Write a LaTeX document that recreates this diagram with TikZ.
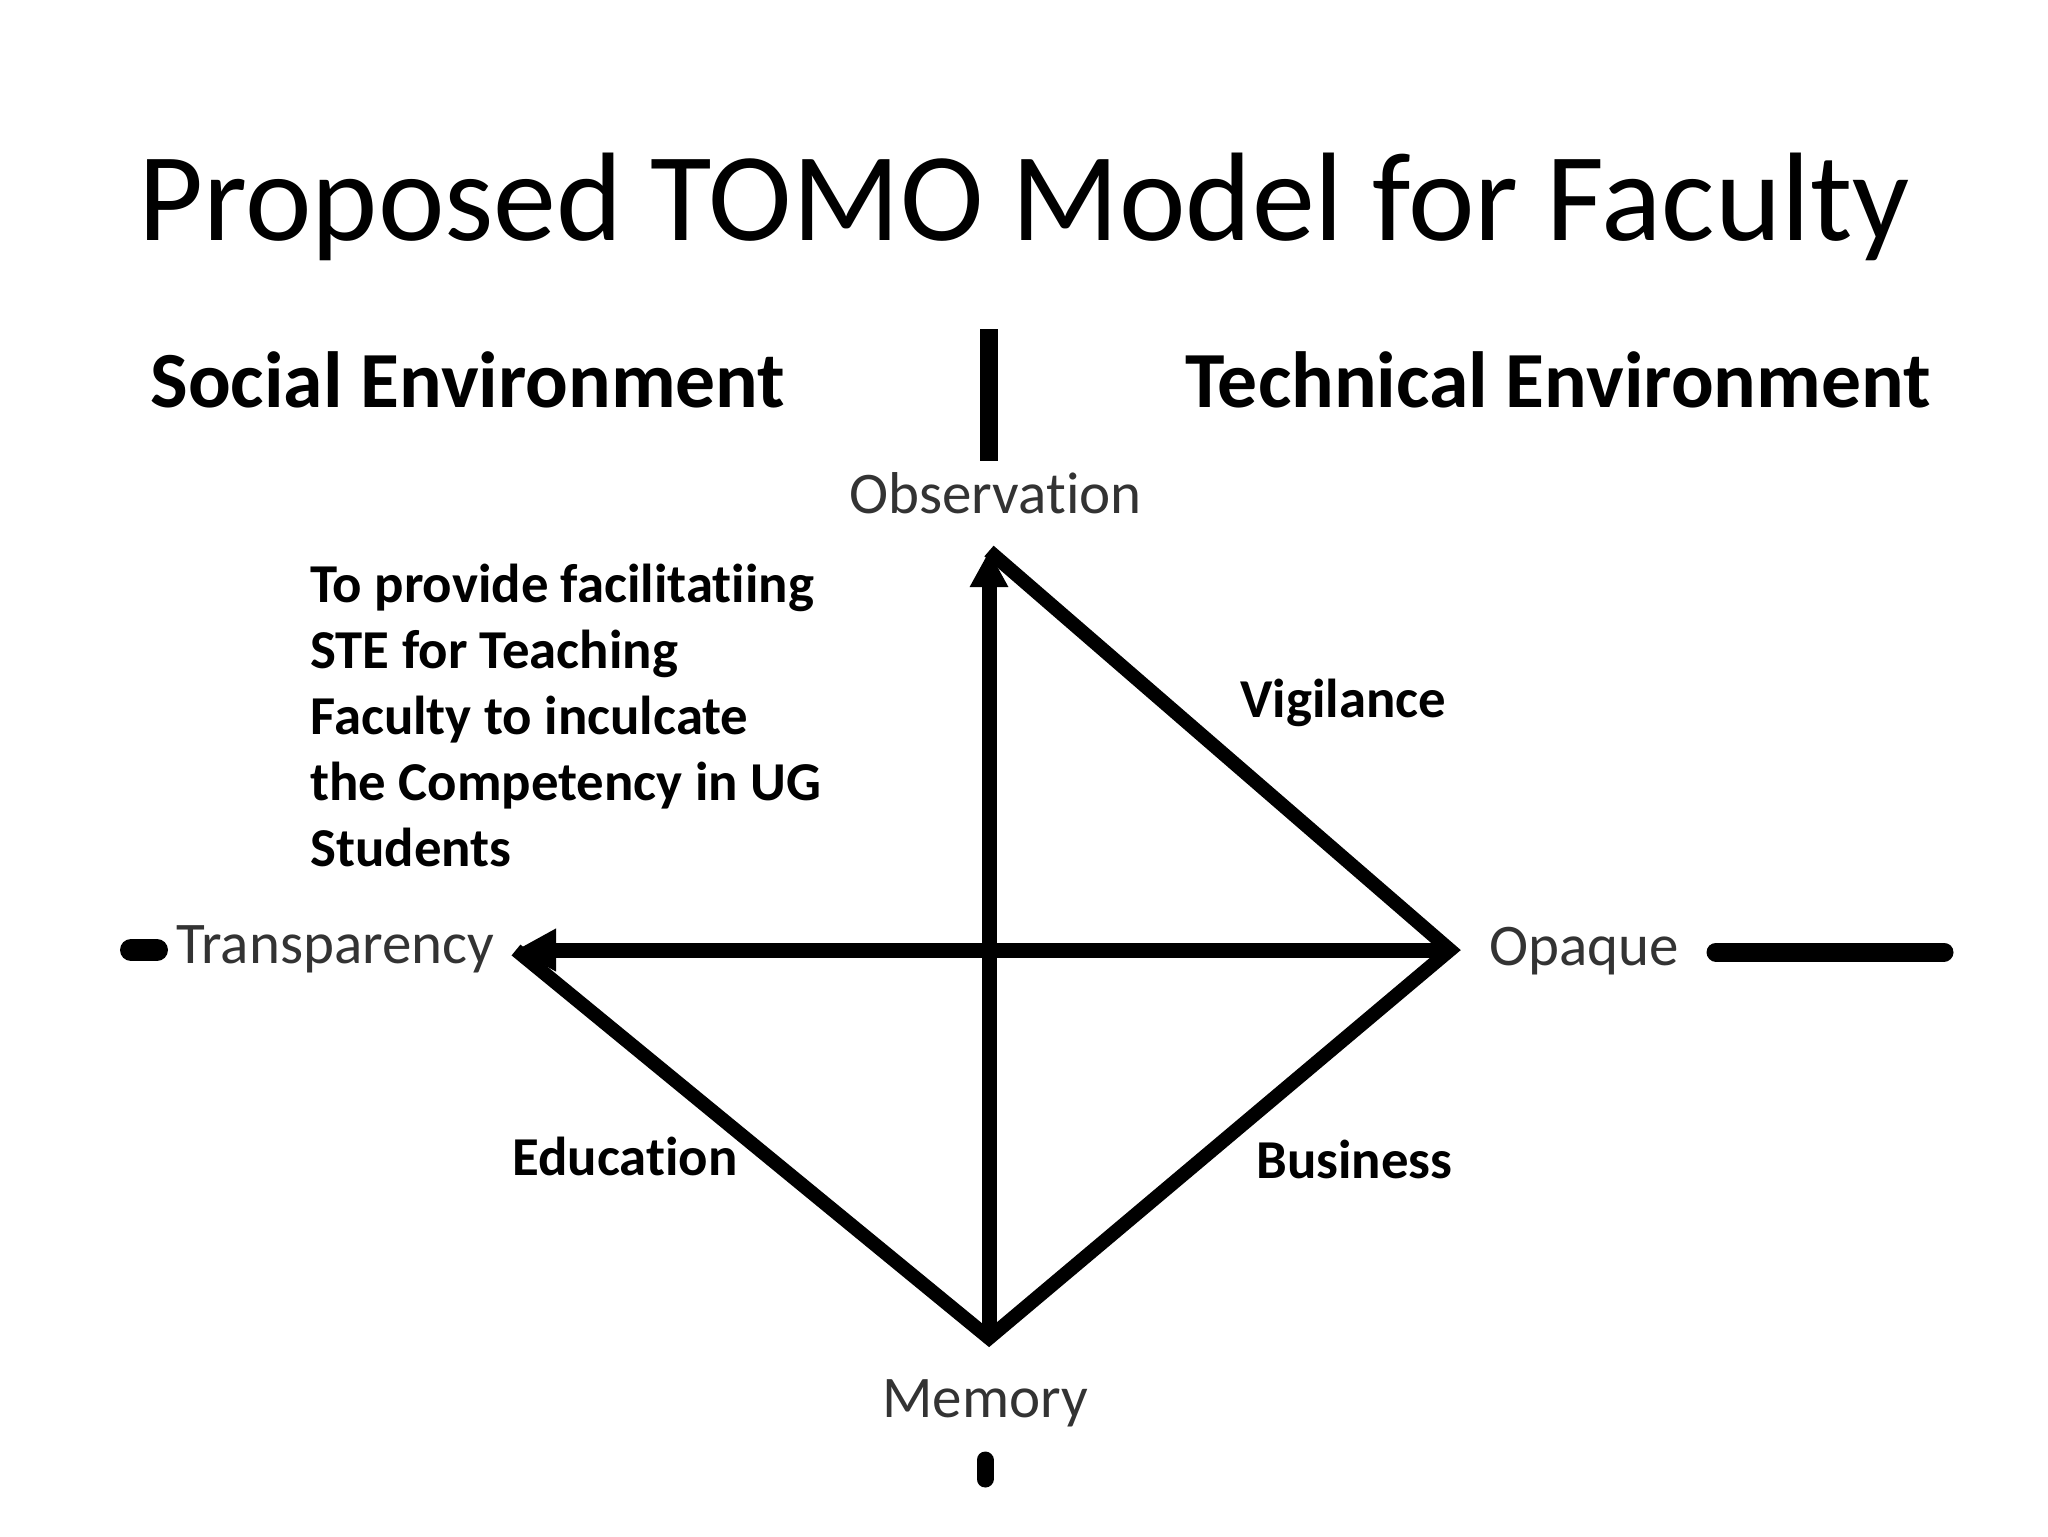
\documentclass[tikz,border=0pt]{standalone}
\usepackage{fontspec}
\setmainfont{Carlito}[Ligatures={NoCommon}]
\usetikzlibrary{arrows.meta}
\definecolor{labelgray}{HTML}{333333}
\tikzset{
  axis/.style={line width=7.5pt, draw=black},
  edge/.style={line width=7pt, draw=black, line join=miter},
  lbl/.style={anchor=base west, inner sep=0pt, text=labelgray, font=\fontsize{29.5pt}{34pt}\selectfont},
  blbl/.style={anchor=base west, inner sep=0pt, text=black, font=\bfseries\fontsize{27.4pt}{33pt}\selectfont},
  env/.style={anchor=base west, inner sep=0pt, text=black, font=\bfseries\fontsize{39.8pt}{46pt}\selectfont},
}
\begin{document}
\begin{tikzpicture}[x=0.5pt, y=-0.5pt]
\useasboundingbox (0,0) rectangle (2048,1536);
\fill[white] (0,0) rectangle (2048,1536);

% title
\node[anchor=base, inner sep=0pt, font=\fontsize{63pt}{72pt}\selectfont] (title) at (1024,240) {Proposed TOMO Model for Faculty};

% environment headings
\node[env] (social) at (150,407) {Social Environment};
\node[env] (technical) at (1185,407) {Technical Environment};

% vertices
\coordinate (obs) at (989,551);
\coordinate (opq) at (1450,950);
\coordinate (mem) at (989,1338);
\coordinate (trn) at (516,950);

% separators
\coordinate (topA) at (989,329);
\coordinate (topB) at (989,461);
\coordinate (leftA) at (131,950);
\coordinate (leftB) at (157,950);
\coordinate (rightA) at (1716,952);
\coordinate (rightB) at (1944,952);
\coordinate (botA) at (985,1460);
\coordinate (botB) at (985,1479);
\draw[line width=9pt] (topA) -- (topB);
\draw[line width=11pt, line cap=round] (leftA) -- (leftB);
\draw[line width=9.5pt, line cap=round] (rightA) -- (rightB);
\draw[line width=8.5pt, line cap=round] (botA) -- (botB);

% diamond edges
\draw[edge] (obs) -- (opq) -- (mem) -- (trn);

% axes with arrowheads
\draw[axis, -{Triangle[length=18pt, width=18pt]}] (mem) -- (obs);
\draw[axis, -{Triangle[length=20pt, width=20pt]}] (opq) -- (trn);

% vertex labels
\node[lbl] (observation) at (849,513) {Observation};
\node[lbl] (transparency) at (176,963) {Transparency};
\node[lbl] (opaque) at (1489,965) {Opaque};
\node[lbl] (memory) at (882,1417) {Memory};

% edge labels
\node[blbl] (vigilance) at (1240,717) {Vigilance};
\node[blbl] (education) at (512,1175) {Education};
\node[blbl] (business) at (1256,1178) {Business};

% text block
\node[blbl, anchor=north west, align=left, font=\bfseries\fontsize{27.4pt}{33pt}\selectfont] (goal) at (310,564) {To provide facilitatiing\\STE for Teaching\\Faculty to inculcate\\the Competency in UG\\Students};
\end{tikzpicture}
\end{document}
